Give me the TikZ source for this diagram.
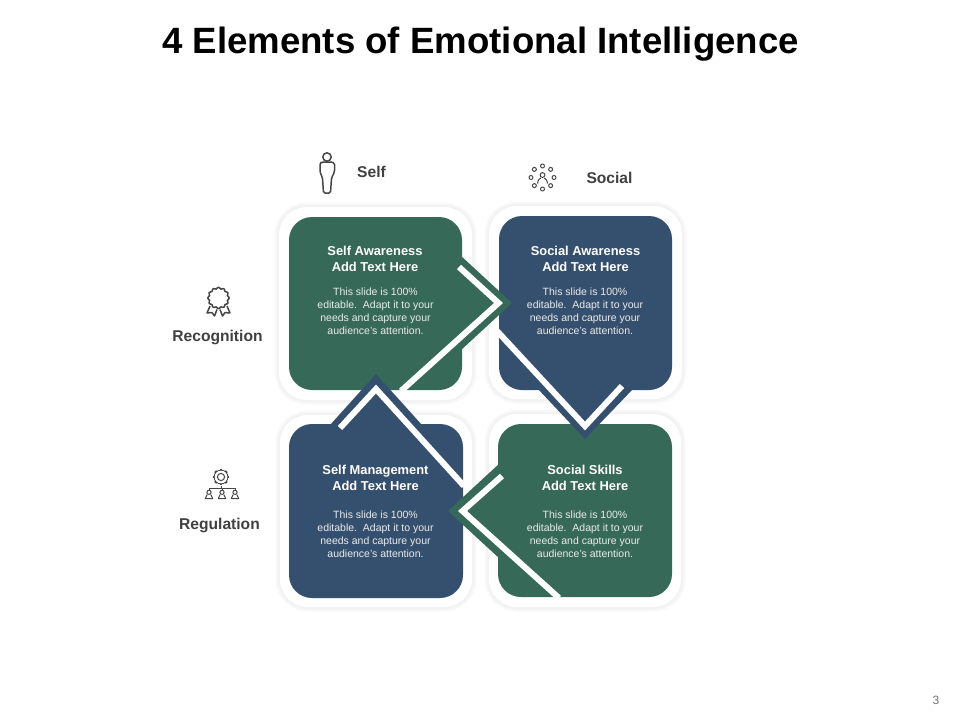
\documentclass[tikz,border=0pt]{standalone}
\usepackage{fontspec}
\setmainfont{Liberation Sans}
\definecolor{cardgreen}{RGB}{54,105,88}
\definecolor{cardblue}{RGB}{53,80,110}
\definecolor{labelgray}{RGB}{64,64,64}
\definecolor{icongray}{RGB}{70,70,70}
\tikzset{
  outercard/.style={fill=white,rounded corners=28pt},
  innercard/.style={rounded corners=23pt},
  chevron/.style={draw=white,line width=6pt,miter limit=10,line cap=butt,line join=miter},
  headtext/.style={text=white,font=\bfseries\fontsize{12.9}{16}\selectfont,align=center,inner sep=0pt},
  bodytext/.style={text=white!92!black,font=\fontsize{10.5}{13}\selectfont,align=center,inner sep=0pt},
  sidelabel/.style={text=labelgray,font=\bfseries\fontsize{15.6}{18}\selectfont,inner sep=0pt},
  icon/.style={draw=icongray,line width=1pt,line join=round,fill=none},
  iconthick/.style={draw=icongray,line width=1.5pt,line join=round,fill=none}
}
\newcommand{\softcard}[4]{%
  \foreach \w/\c in {9/2,7/3,5/4,3/5}{
    \draw[draw=black!\c,line width=\w pt,rounded corners=28pt] (#1,#2) rectangle (#3,#4);
  }
  \fill[outercard] (#1,#2) rectangle (#3,#4);
}
\newcommand{\bodylines}{This slide is 100\%\\editable.\ \ Adapt it to your\\needs and capture your\\audience's attention.}
\newcommand{\orgperson}[1]{%
  \draw[icon] (#1,492.3) circle (2.1);
  \draw[icon] (#1-1.8,494.5) -- (#1-3.8,498.6) -- (#1+3.8,498.6) -- (#1+1.8,494.5);
}
\begin{document}
\begin{tikzpicture}[x=1pt,y=-1pt]
\useasboundingbox (0,0) rectangle (960,720);
\fill[white] (0,0) rectangle (960,720);

\node[font=\bfseries\fontsize{36.6}{42}\selectfont,text=black,inner sep=0pt] (title) at (480.5,44) {4 Elements of Emotional Intelligence};

% cards
\softcard{279}{207}{472}{400}
\softcard{489}{206}{682}{399}
\softcard{280}{415}{472}{607}
\softcard{489}{414}{681}{607}
\fill[innercard,cardgreen] (289,217) rectangle (462,390);
\fill[innercard,cardblue] (499,216) rectangle (672,390);
\fill[innercard,cardblue] (289,424) rectangle (463,598);
\fill[innercard,cardgreen] (498,424) rectangle (672,597);

% arrow heads and white chevrons
\fill[cardgreen] (460,255) -- (512,303) -- (460,351) -- cycle;
\draw[chevron] (459,267) -- (498.5,303) -- (401,391);

\fill[cardblue] (538,389) -- (585,439) -- (633,389) -- cycle;
\draw[chevron] (497,331) -- (585,426) -- (622,386);

\fill[cardblue] (330,425) -- (376,374) -- (422,425) -- cycle;
\draw[chevron] (340,428) -- (376,389) -- (464,486);

\fill[cardgreen] (500,463) -- (448,511) -- (500,559) -- cycle;
\draw[chevron] (502,476) -- (462.5,511) -- (559,598);

% card texts
\node[headtext] (h1) at (375,259) {Self Awareness\\Add Text Here};
\node[bodytext] (b1) at (375.5,311.5) {\bodylines};
\node[headtext] (h2) at (585.5,259) {Social Awareness\\Add Text Here};
\node[bodytext] (b2) at (585,311.5) {\bodylines};
\node[headtext] (h3) at (375.5,478) {Self Management\\Add Text Here};
\node[bodytext] (b3) at (375.5,534.5) {\bodylines};
\node[headtext] (h4) at (585,478) {Social Skills\\Add Text Here};
\node[bodytext] (b4) at (585,534.5) {\bodylines};

% side labels
\node[sidelabel] (self) at (371.5,172) {Self};
\node[sidelabel] (social) at (609.5,177.5) {Social};
\node[sidelabel] (recognition) at (217.5,337) {Recognition};
\node[sidelabel] (regulation) at (219.5,525) {Regulation};
\node[text=black!55,font=\fontsize{12}{14}\selectfont,inner sep=0pt] (page) at (936,700) {3};

% person icon
\draw[iconthick] (327,157) circle (4.2);
\draw[iconthick,rounded corners=1.5pt] (322,162) -- (320,163) -- (320,172) -- (322.5,178)
  -- (323.5,193) -- (330.5,193) -- (331.5,178) -- (334.5,172) -- (334.5,163) -- (332,162) -- cycle;

% social icon
\foreach \a in {0,45,...,315}{
  \draw[icon] (542.5,177.5) ++(\a:11.5) circle (2);
}
\draw[icon] (542.5,175) circle (2.4);
\draw[icon] (537.5,183.5) .. controls (538,179) and (540,178.5) .. (541,178);
\draw[icon] (547.5,183.5) .. controls (547,179) and (545,178.5) .. (544,178);

% rosette icon
\draw[iconthick] plot[smooth cycle,samples=48,domain=0:352.5] ({218.5+(10+0.8*cos(12*\x))*cos(\x)},{298+(10+0.8*cos(12*\x))*sin(\x)});
\draw[iconthick] (210,306) -- (207,313) -- (212,312.5) -- (214.5,316) -- (217,309.5);
\draw[iconthick] (227,306) -- (230,313) -- (225,312.5) -- (222.5,316) -- (220,309.5);

% gear and people icon
\foreach \a in {0,45,...,315}{
  \draw[icongray,line width=2.6pt] (221,477) ++(\a:6.5) -- ++(\a:1.8);
}
\draw[icon] (221,477) circle (6.8);
\fill[white] (221,477) circle (6.3);
\draw[icon] (221,477) circle (3.6);
\draw[icon] (221,486) -- (221,488);
\draw[icon] (209,490) -- (209,488) -- (235,488) -- (235,490);
\draw[icon] (222,488) -- (222,490);
\orgperson{209}
\orgperson{222}
\orgperson{235}
\end{tikzpicture}
\end{document}
